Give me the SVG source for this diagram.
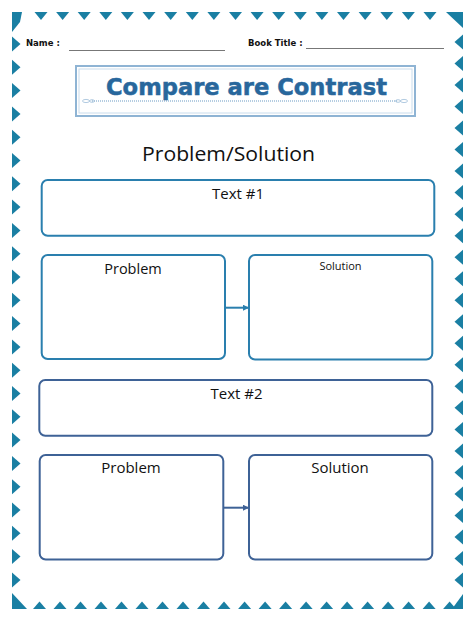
<svg xmlns="http://www.w3.org/2000/svg" xmlns:xlink="http://www.w3.org/1999/xlink" width="474" height="622" viewBox="0 0 474 622">
<style>
.tri{fill:#1a7fa3}
.lbl{font-family:"Open Sans","Liberation Sans",sans-serif;fill:#111}
.hdr{font-family:"DejaVu Sans","Liberation Sans",sans-serif;font-weight:bold;font-size:8.5px;fill:#111}
.ln{stroke:#777;stroke-width:1}
.boxA{fill:#fff;stroke:#2a7fae;stroke-width:2}
.boxB{fill:#fff;stroke:#3e6296;stroke-width:2}
.arA{stroke:#2a7fae;stroke-width:2;fill:none}
.arB{stroke:#3e6296;stroke-width:2;fill:none}
</style>
<defs>
<polygon id="td" points="-6.5,12 6.5,12 0,20"/>
<polygon id="tu" points="-6.5,609 6.5,609 0,601.5"/>
<polygon id="tr" points="12,-7.5 20.5,0 12,7.5"/>
<polygon id="tl" points="463,-7.5 454.5,0 463,7.5"/>
<marker id="mA" viewBox="0 0 6 6" refX="5" refY="3" markerWidth="3" markerHeight="3" orient="auto"><path d="M0,0 L6,3 L0,6 Z" fill="#2a7fae"/></marker>
<marker id="mB" viewBox="0 0 6 6" refX="5" refY="3" markerWidth="3" markerHeight="3" orient="auto"><path d="M0,0 L6,3 L0,6 Z" fill="#3e6296"/></marker>
</defs>
<rect width="474" height="622" fill="#fff"/>
<g id="border" class="tri">
<use href="#td" x="41"/><use href="#td" x="62.6"/><use href="#td" x="84.2"/><use href="#td" x="105.8"/><use href="#td" x="127.4"/><use href="#td" x="149"/><use href="#td" x="170.7"/><use href="#td" x="192.3"/><use href="#td" x="213.9"/><use href="#td" x="235.5"/><use href="#td" x="257.1"/><use href="#td" x="278.7"/><use href="#td" x="300.3"/><use href="#td" x="321.9"/><use href="#td" x="343.5"/><use href="#td" x="365.1"/><use href="#td" x="386.8"/><use href="#td" x="408.4"/><use href="#td" x="430"/>
<polygon points="12,12 22,12 20,22 12,32"/>
<polygon points="446,12 463,12 463,28"/>
<use href="#tr" y="44"/><use href="#tr" y="67.3"/><use href="#tr" y="90.6"/><use href="#tr" y="113.9"/><use href="#tr" y="137.2"/><use href="#tr" y="160.5"/><use href="#tr" y="183.8"/><use href="#tr" y="207.1"/><use href="#tr" y="230.4"/><use href="#tr" y="253.7"/><use href="#tr" y="277"/><use href="#tr" y="300.3"/><use href="#tr" y="323.6"/><use href="#tr" y="346.9"/><use href="#tr" y="370.2"/><use href="#tr" y="393.5"/><use href="#tr" y="416.8"/><use href="#tr" y="440.1"/><use href="#tr" y="463.4"/><use href="#tr" y="486.7"/><use href="#tr" y="510"/><use href="#tr" y="533.3"/><use href="#tr" y="556.6"/><use href="#tr" y="579.9"/>
<use href="#tl" y="42"/><use href="#tl" y="63.5"/><use href="#tl" y="85"/><use href="#tl" y="106.6"/><use href="#tl" y="128.1"/><use href="#tl" y="149.6"/><use href="#tl" y="171.1"/><use href="#tl" y="192.6"/><use href="#tl" y="214.2"/><use href="#tl" y="235.7"/><use href="#tl" y="257.2"/><use href="#tl" y="278.7"/><use href="#tl" y="300.2"/><use href="#tl" y="321.8"/><use href="#tl" y="343.3"/><use href="#tl" y="364.8"/><use href="#tl" y="386.3"/><use href="#tl" y="407.8"/><use href="#tl" y="429.4"/><use href="#tl" y="450.9"/><use href="#tl" y="472.4"/><use href="#tl" y="493.9"/><use href="#tl" y="515.4"/><use href="#tl" y="537"/><use href="#tl" y="558.5"/><use href="#tl" y="580"/>
<use href="#tu" x="39.5"/><use href="#tu" x="60"/><use href="#tu" x="80.5"/><use href="#tu" x="101"/><use href="#tu" x="121.5"/><use href="#tu" x="142"/><use href="#tu" x="162.5"/><use href="#tu" x="183"/><use href="#tu" x="203.5"/><use href="#tu" x="224"/><use href="#tu" x="244.6"/><use href="#tu" x="265.1"/><use href="#tu" x="285.6"/><use href="#tu" x="306.1"/><use href="#tu" x="326.6"/><use href="#tu" x="347.1"/><use href="#tu" x="367.6"/><use href="#tu" x="388.1"/><use href="#tu" x="408.6"/><use href="#tu" x="429.1"/><use href="#tu" x="449.6"/>
<polygon points="12,593 12,609 27,609"/>
<polygon points="463,594 463,609 452,609"/>
</g>
<g id="header">
<text class="hdr" x="26" y="46">Name :</text>
<line class="ln" x1="69" y1="50.5" x2="225" y2="50.5"/>
<text class="hdr" x="248" y="46">Book Title :</text>
<line class="ln" x1="306" y1="48.5" x2="444" y2="48.5"/>
</g>
<g id="title">
<rect x="76" y="66" width="339" height="50" fill="#fff" stroke="#8fb4d4" stroke-width="2"/>
<rect x="79" y="69" width="333" height="44" fill="none" stroke="#c9dcec" stroke-width="1"/>
<line x1="92" y1="101" x2="398" y2="101" stroke="#9dbdd8" stroke-width="1.5" stroke-dasharray="1 1"/>
<ellipse cx="86" cy="101" rx="3.5" ry="1.6" fill="none" stroke="#9dbdd8" stroke-width="0.8"/>
<ellipse cx="92" cy="101" rx="2.5" ry="1.3" fill="none" stroke="#9dbdd8" stroke-width="0.8"/>
<ellipse cx="398" cy="101" rx="2.5" ry="1.3" fill="none" stroke="#9dbdd8" stroke-width="0.8"/>
<ellipse cx="404" cy="101" rx="3.5" ry="1.6" fill="none" stroke="#9dbdd8" stroke-width="0.8"/>
<text x="246.5" y="95" text-anchor="middle" font-family="DejaVu Sans,Liberation Sans,sans-serif" font-weight="bold" font-size="23" fill="#28679c" stroke="#28679c" stroke-width="0.5" textLength="281" lengthAdjust="spacingAndGlyphs">Compare are Contrast</text>
</g>
<text class="lbl" x="228.5" y="161" text-anchor="middle" font-size="20" textLength="173" lengthAdjust="spacingAndGlyphs">Problem/Solution</text>
<g id="text1"><rect class="boxA" x="41.7" y="180" width="392.6" height="55.7" rx="6"/><text class="lbl" x="238" y="199" text-anchor="middle" font-size="15">Text #1</text></g>
<g id="problem1"><rect class="boxA" x="41.7" y="255" width="183.3" height="104" rx="6"/><text class="lbl" x="133" y="274" text-anchor="middle" font-size="14.5">Problem</text></g>
<g id="solution1"><rect class="boxA" x="249" y="255" width="183.3" height="104.5" rx="6"/><text class="lbl" x="340.5" y="270" text-anchor="middle" font-size="11">Solution</text></g>
<g id="text2"><rect class="boxB" x="39.3" y="380" width="393" height="55.7" rx="6"/><text class="lbl" x="236.5" y="399" text-anchor="middle" font-size="15">Text #2</text></g>
<g id="problem2"><rect class="boxB" x="39.7" y="455" width="183.6" height="104.5" rx="6"/><text class="lbl" x="131" y="473" text-anchor="middle" font-size="15">Problem</text></g>
<g id="solution2"><rect class="boxB" x="249" y="455" width="183.3" height="104.5" rx="6"/><text class="lbl" x="340" y="473" text-anchor="middle" font-size="15">Solution</text></g>
<g id="connectors">
<line class="arA" x1="225" y1="307.7" x2="248" y2="307.7" marker-end="url(#mA)"/>
<line class="arB" x1="223.3" y1="507.7" x2="248" y2="507.7" marker-end="url(#mB)"/>
</g>
</svg>
